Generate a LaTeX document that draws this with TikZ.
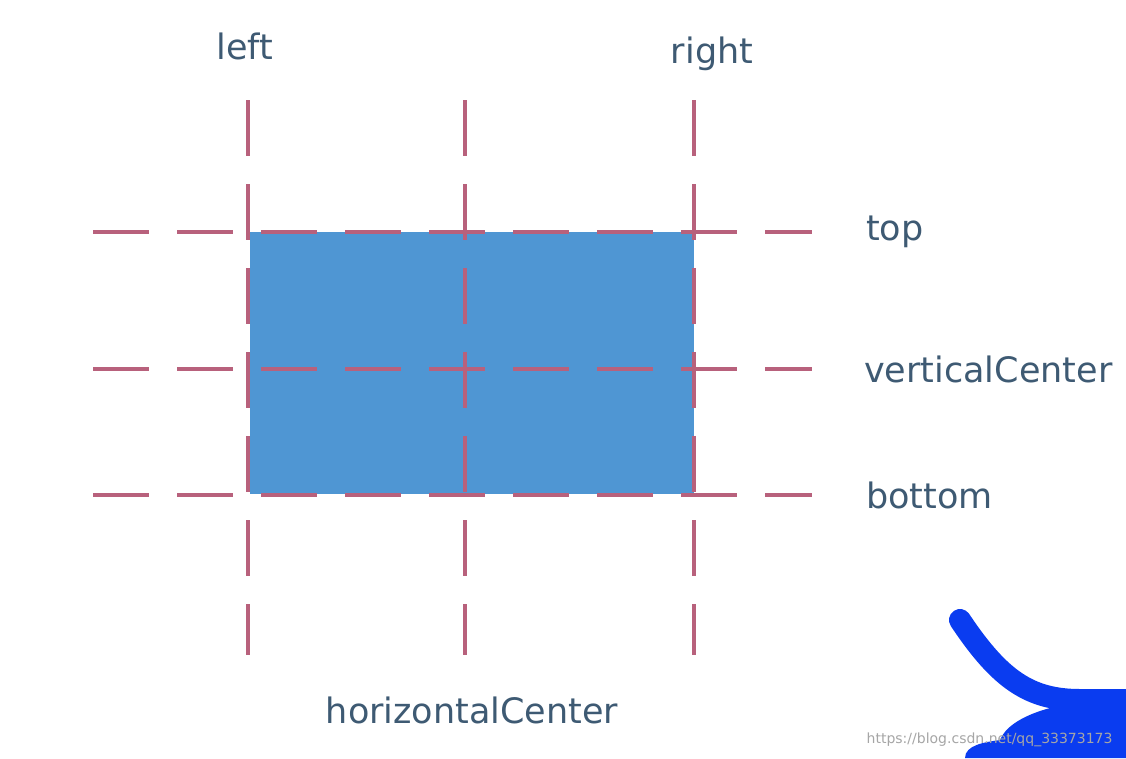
\documentclass[tikz,border=0pt]{standalone}
\usepackage{fontspec}
\setmainfont{DejaVu Sans}
\begin{document}
\begin{tikzpicture}[x=1pt,y=-1pt,
  guide/.style={draw=guidec,line width=4pt,dash pattern=on 56pt off 28pt},
  lbl/.style={text=labelc,font=\fontsize{35}{40}\selectfont,inner sep=0pt}]
\definecolor{guidec}{HTML}{B8617C}
\definecolor{boxc}{HTML}{4F96D3}
\definecolor{labelc}{HTML}{3E5A73}
\definecolor{scrib}{HTML}{0A3CF0}
\useasboundingbox (0,0) rectangle (1126,758);
\fill[white] (0,0) rectangle (1126,758);
\node[fill=boxc,minimum width=444pt,minimum height=262pt,inner sep=0pt,anchor=north west] (box) at (250,232) {};
\coordinate (v1a) at (248,100); \coordinate (v1b) at (248,655);
\coordinate (v2a) at (465,100); \coordinate (v2b) at (465,655);
\coordinate (v3a) at (694,100); \coordinate (v3b) at (694,655);
\coordinate (h1a) at (93,232); \coordinate (h1b) at (812,232);
\coordinate (h2a) at (93,369); \coordinate (h2b) at (812,369);
\coordinate (h3a) at (93,495); \coordinate (h3b) at (812,495);
\foreach \a/\b in {v1a/v1b,v2a/v2b,v3a/v3b,h1a/h1b,h2a/h2b,h3a/h3b}
  \draw[guide] (\a) -- (\b);
\node[lbl] (left) at (245,46) {left};
\node[lbl] (right) at (712,54) {right};
\node[lbl,anchor=west] (top) at (866,232) {top};
\node[lbl,anchor=west] (vc) at (864,369) {verticalCenter};
\node[lbl,anchor=west] (bot) at (866,495) {bottom};
\node[lbl] (hc) at (472,710) {horizontalCenter};
\draw[scrib,line width=22pt,line cap=round] (960,620) .. controls (1000,680) and (1030,700) .. (1080,700) -- (1126,700);
\fill[scrib] (1000,740) .. controls (1010,715) and (1060,700) .. (1126,698) -- (1126,758) -- (965,758) .. controls (965,745) and (985,742) .. (1000,740);
\node[text=gray!70,font=\fontsize{14}{16}\selectfont,anchor=east] (wm) at (1116,740) {https://blog.csdn.net/qq\_33373173};
\end{tikzpicture}
\end{document}
